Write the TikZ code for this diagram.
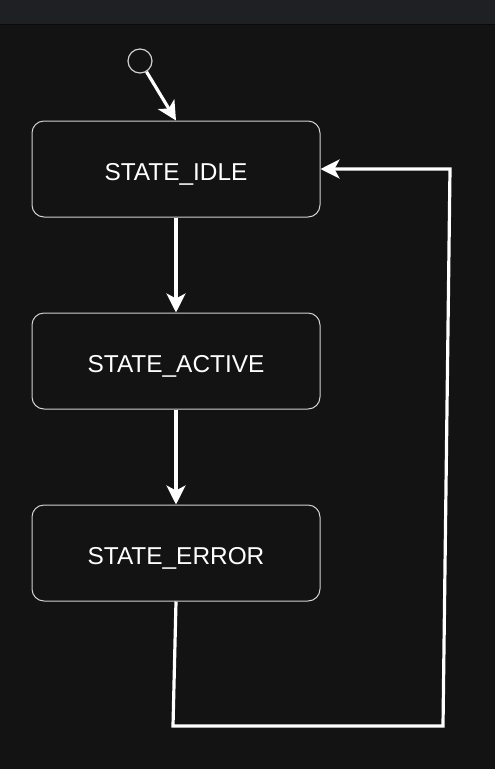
\documentclass[tikz,border=0pt]{standalone}
\usepackage{fontspec}
\setmainfont{Liberation Sans}
\usetikzlibrary{arrows.meta}
\definecolor{bgcol}{HTML}{131313}
\definecolor{barcol}{HTML}{1F2023}
\definecolor{barline}{HTML}{0A0A0A}
\definecolor{boxline}{HTML}{D0D0D0}
\begin{document}
\begin{tikzpicture}[x=1pt,y=-1pt,
  statebox/.style={draw=boxline, line width=1pt, fill=bgcol, rounded corners=12pt,
    minimum width=288pt, minimum height=96pt, inner sep=0pt, text=white,
    text height=22pt, text depth=0pt,
    font=\fontsize{24.4pt}{28pt}\selectfont},
  initstate/.style={circle, draw=boxline, line width=1.2pt, minimum size=24pt, inner sep=0pt},
  conn/.style={draw=white, line width=3.2pt, -{Stealth[length=19pt,width=19pt,inset=5pt]}}]
\useasboundingbox (0,0) rectangle (495,769);
\fill[bgcol] (0,0) rectangle (495,769);
\fill[barcol] (0,0) rectangle (495,24);
\draw[barline, line width=1.2pt] (0,24.5) -- (495,24.5);
\node[initstate] (init) at (140,61) {};
\node[statebox] (idle) at (176,169) {STATE\_IDLE};
\node[statebox] (active) at (176,361) {STATE\_ACTIVE};
\node[statebox] (error) at (176,553) {STATE\_ERROR};
\coordinate (c1) at (173,726);
\coordinate (c2) at (443,726);
\coordinate (c3) at (450,169);
\draw[conn] (init) -- (idle.north);
\draw[conn] (idle) -- (active);
\draw[conn] (active) -- (error);
\draw[conn] (error.south) -- (c1) -- (c2) -- (c3) -- (idle.east);
\end{tikzpicture}
\end{document}
